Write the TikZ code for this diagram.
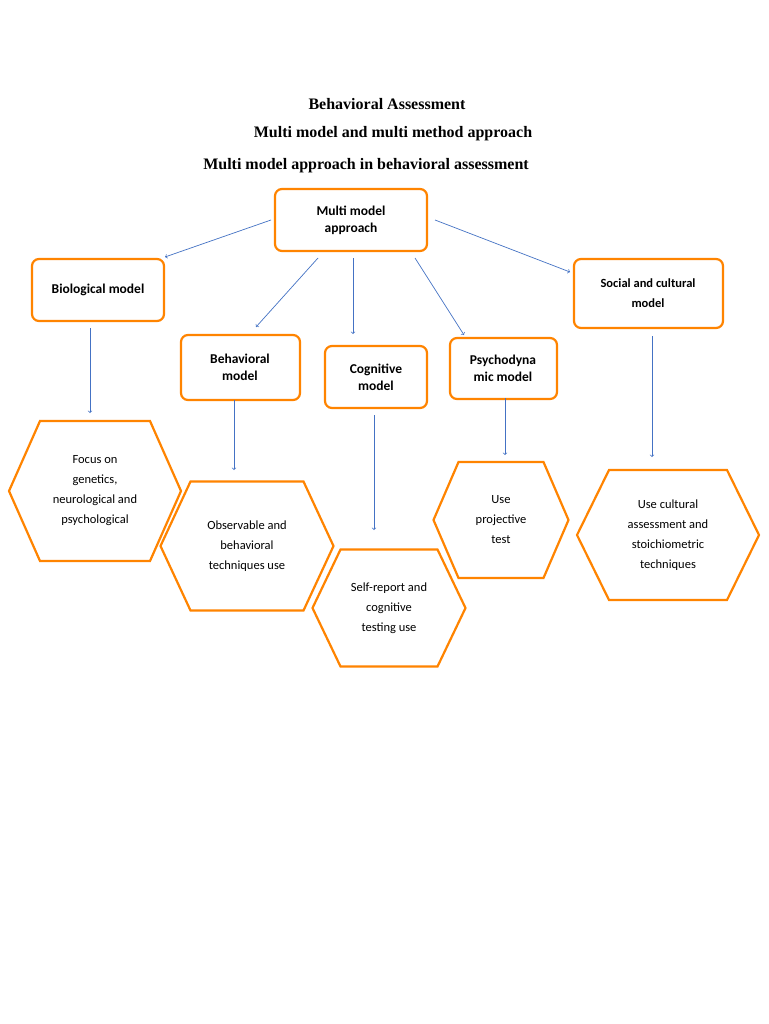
\documentclass[tikz,border=0pt]{standalone}
\usepackage{fontspec}
\setmainfont{Carlito}
\newfontfamily\tserif{Liberation Serif}
\begin{document}
\begin{tikzpicture}[x=1pt,y=-1pt,
  box/.style={draw=orange!85!yellow!90!red,line width=2.2pt,rounded corners=7pt,align=center,font=\fontsize{13.5}{17}\selectfont\bfseries},
  hexs/.style={draw=orange!85!yellow!90!red,line width=2.2pt,line join=miter},
  htxt/.style={align=center,font=\fontsize{12.5}{20}\selectfont},
  arr/.style={draw={rgb,255:red,68;green,114;blue,196},line width=0.7pt,->},
  ttl/.style={font=\tserif\fontsize{16}{19}\selectfont\bfseries}]
\useasboundingbox (0,0) rectangle (768,1024);
\fill[white] (0,0) rectangle (768,1024);
\node[ttl] (t1) at (387,104) {Behavioral Assessment};
\node[ttl] (t2) at (393,134) {Multi model and multi method approach};
\node[ttl] (t3) at (366,166) {Multi model approach in behavioral assessment};
\draw[box] (275,189) rectangle (427,251); \node[box,draw=none] (main) at (351,220) {Multi model\\approach};
\draw[box] (32,259) rectangle (164,321); \node[box,draw=none] (bio) at (98,290) {Biological model};
\draw[box] (181,335) rectangle (300,400); \node[box,draw=none] (beh) at (240,367) {Behavioral\\model};
\draw[box] (325,346) rectangle (427,408); \node[box,draw=none] (cog) at (376,377) {Cognitive\\model};
\draw[box] (450,338) rectangle (557,399); \node[box,draw=none] (psy) at (503,368) {Psychodyna\\mic model};
\draw[box] (574,259) rectangle (723,328); \node[box,draw=none,font=\fontsize{12.5}{20}\selectfont\bfseries] (soc) at (648,293) {Social and cultural\\model};
\newcommand{\myhex}[7]{% name cx cy w h inset text
  \draw[hexs] (#2-#4/2,#3) -- (#2-#4/2+#6,#3-#5/2) -- (#2+#4/2-#6,#3-#5/2) -- (#2+#4/2,#3) -- (#2+#4/2-#6,#3+#5/2) -- (#2-#4/2+#6,#3+#5/2) -- cycle;
  \node[htxt] (#1) at (#2,#3) {#7};}
\myhex{h1}{95}{491}{172}{140}{31}{Focus on\\genetics,\\neurological and\\psychological}
\myhex{h2}{247}{546}{173}{129}{30}{Observable and\\behavioral\\techniques use}
\myhex{h3}{389}{608}{153}{117}{28}{Self-report and\\cognitive\\testing use}
\myhex{h4}{501}{520}{135}{116}{25}{Use\\projective\\test}
\myhex{h5}{668}{535}{182}{130}{32}{Use cultural\\assessment and\\stoichiometric\\techniques}
\coordinate (a1) at (271,220); \coordinate (b1) at (165,257);
\coordinate (a2) at (318,258); \coordinate (b2) at (256,327);
\coordinate (a3) at (353,258); \coordinate (b3) at (353,334);
\coordinate (a4) at (415,258); \coordinate (b4) at (464,335);
\coordinate (a5) at (435,220); \coordinate (b5) at (570,272);
\coordinate (a6) at (90,328); \coordinate (b6) at (90,413);
\coordinate (a7) at (234,400); \coordinate (b7) at (234,470);
\coordinate (a8) at (374,415); \coordinate (b8) at (374,530);
\coordinate (a9) at (505,398); \coordinate (b9) at (505,455);
\coordinate (a10) at (652,336); \coordinate (b10) at (652,457);
\foreach \i in {1,...,10} {\draw[arr] (a\i) -- (b\i);}
\end{tikzpicture}
\end{document}
